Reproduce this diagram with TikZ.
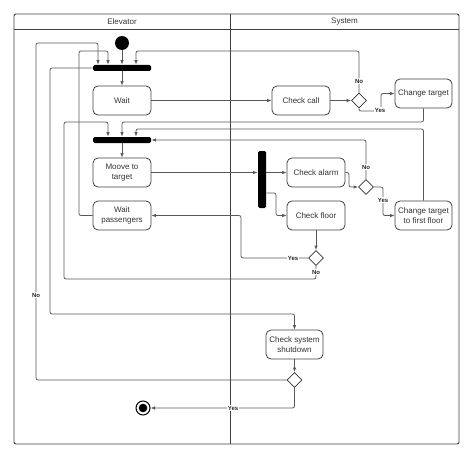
\documentclass[tikz,border=0pt]{standalone}
\usepackage{fontspec}
\setmainfont{Liberation Sans}
\usetikzlibrary{shapes.geometric,arrows.meta,calc}
\begin{document}
\begin{tikzpicture}[x=1pt,y=-1pt,
 line width=0.8pt,
 act/.style={draw=black!75, rounded corners=5pt, minimum width=58pt, minimum height=29pt, align=center, font=\fontsize{8}{9.5}\selectfont, text=black!80, inner sep=1pt, fill=white},
 bar/.style={fill=black, rounded corners=1.5pt, inner sep=0pt},
 dec/.style={draw=black!80, diamond, minimum width=15pt, minimum height=15pt, inner sep=0pt, fill=white},
 flow/.style={draw=black!65, rounded corners=2pt, -{Latex[length=4.5pt,width=3.5pt]}},
 lbl/.style={font=\fontsize{6}{7}\selectfont\bfseries, fill=white, inner sep=0.5pt, text=black!85},
 lane/.style={draw=black!75, line width=0.9pt},
 head/.style={font=\fontsize{8}{9.5}\selectfont, text=black!80},
]
\useasboundingbox (0,0) rectangle (474,460);
% swimlanes
\draw[lane, rounded corners=2pt] (14,14) rectangle (459,444);
\draw[lane] (14,29) -- (459,29);
\draw[lane] (230,14) -- (230,444);
\node[head] (hElev) at (122,21.5) {Elevator};
\node[head] (hSys) at (344.5,21.5) {System};

% nodes
\node[circle, fill=black, minimum size=14pt, inner sep=0pt] (start) at (122,43) {};
\node[bar, minimum width=58pt, minimum height=6pt] (bar1) at (122,68) {};
\node[act] (wait) at (122,100.5) {Wait};
\node[act] (checkcall) at (301,100.5) {Check call};
\node[dec] (dcall) at (359,100.5) {};
\node[act, minimum width=57pt] (ctarget) at (423.5,93.5) {Change target};
\node[bar, minimum width=58pt, minimum height=6pt] (bar2) at (122,140) {};
\node[act] (moove) at (122,172.5) {Moove to\\target};
\node[act] (waitp) at (122,215.5) {Wait\\passengers};
\node[bar, minimum width=8pt, minimum height=57pt] (bar3) at (262,179.5) {};
\node[act] (calarm) at (316,172.5) {Check alarm};
\node[act] (cfloor) at (316,215.5) {Check floor};
\node[dec] (dalarm) at (366,187) {};
\node[act, minimum width=57pt] (cfirst) at (423.5,215.5) {Change target\\to first floor};
\node[dec] (dfloor) at (316,258) {};
\node[act, minimum width=57pt] (cshut) at (294.5,344.5) {Check system\\shutdown};
\node[dec] (dshut) at (294.5,380) {};
\node[circle, draw=black, line width=1pt, minimum size=14pt, inner sep=0pt] (end) at (143,408) {};
\fill (end.center) circle (4.3pt);

% flows
\draw[flow] (start) -- (bar1);
\draw[flow] (dshut.west) -- (36,380) -- (36,43) -- (98,43) -- ([xshift=-24pt]bar1.north);
\draw[flow] (waitp.west) -- (79,215.5) -- (79,51) -- (108,51) -- ([xshift=-14pt]bar1.north);
\draw[flow] (dcall.north) -- (359,51) -- (136,51) -- ([xshift=14pt]bar1.north);
\draw[flow] (bar1.west) -- (50,68) -- (50,314) -- (294.5,314) -- (cshut.north);
\draw[flow] (bar1) -- (wait);
\draw[flow] (wait) -- (checkcall);
\draw[flow] (checkcall) -- (dcall);
\draw[flow] (dcall.south) -- (359,111) -- (381,111) -- (381,93.5) -- (ctarget.west);
\draw[flow] (ctarget.south) -- (423.5,122) -- (122,122) -- (bar2.north);
\draw[flow] (cfirst.north) -- (423.5,129) -- (136,129) -- ([xshift=14pt]bar2.north);
\draw[flow] (dalarm.north) -- (366,140) -- (bar2.east);
\draw[flow] (dfloor.south) -- (316,279) -- (64,279) -- (64,122) -- (108,122) -- ([xshift=-14pt]bar2.north);
\draw[flow] (bar2) -- (moove);
\draw[flow] (moove.east) -- (moove.east -| bar3.west);
\draw[flow] (calarm.west -| bar3.east) -- (calarm.west);
\draw[flow] ([yshift=-13.5pt]bar3.east) -- (276,193) -- (276,215.5) -- (cfloor.west);
\draw[flow] (calarm.east) -- (349,172.5) -- (349,187) -- (dalarm.west);
\draw[flow] (dalarm.east) -- (383,187) -- (383,215.5) -- (cfirst.west);
\draw[flow] (cfloor) -- (dfloor);
\draw[flow] (dfloor.west) -- (241,258) -- (241,215.5) -- (waitp.east);
\draw[flow] (cshut) -- (dshut);
\draw[flow] (dshut.south) -- (294.5,408) -- (end.east);

% labels
\node[lbl] (lNo1) at (36,295) {No};
\node[lbl] (lNo2) at (359,81) {No};
\node[lbl] (lYes1) at (380,110) {Yes};
\node[lbl] (lNo3) at (366,167) {No};
\node[lbl] (lYes2) at (383,200) {Yes};
\node[lbl] (lYes3) at (293,258) {Yes};
\node[lbl] (lNo4) at (316,272) {No};
\node[lbl] (lYes4) at (233,408) {Yes};
\end{tikzpicture}
\end{document}
